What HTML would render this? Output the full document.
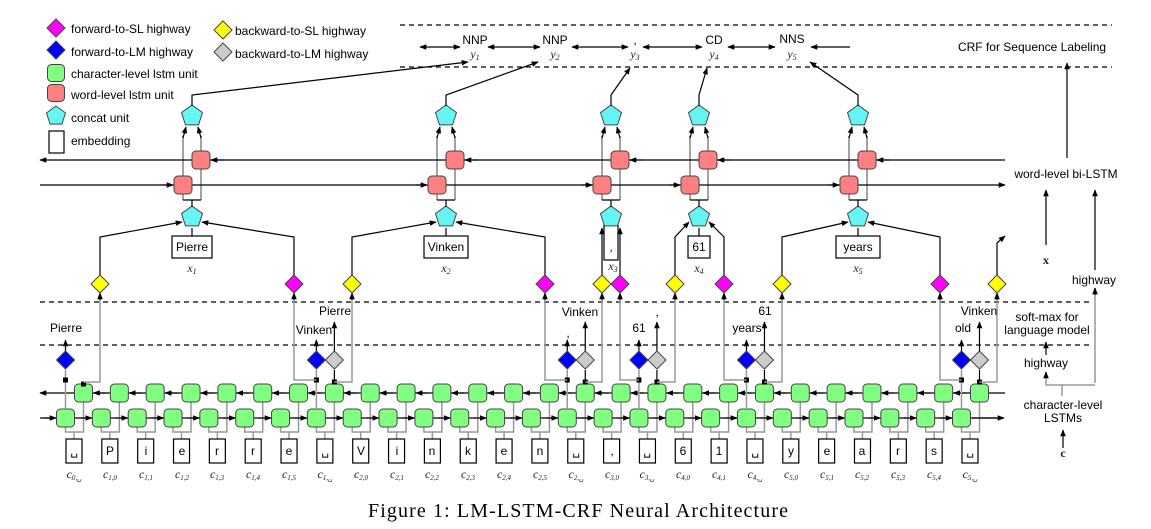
<!DOCTYPE html>
<html><head><meta charset="utf-8">
<style>
html,body{margin:0;padding:0;background:#fff;}
svg{display:block;font-family:"Liberation Sans","DejaVu Sans",sans-serif;}
.t{font-size:12px;fill:#000}
.it{font-family:"Liberation Serif",serif;font-style:italic;font-size:12px;fill:#223}
.cap{font-family:"Liberation Serif",serif;font-size:20px;fill:#000}
</style></head><body>
<svg id="s" width="1151" height="529" viewBox="0 0 1151 529" xmlns="http://www.w3.org/2000/svg">
<defs>
<marker id="a" viewBox="0 0 10 10" refX="9" refY="5" markerWidth="7" markerHeight="7" orient="auto-start-reverse" markerUnits="userSpaceOnUse"><path d="M0,1 L10,5 L0,9 z" fill="#000"/></marker>
</defs>
<g id="g"></g>
<!-- legend text -->
<text class="t" x="71" y="33">forward-to-SL highway</text>
<text class="t" x="71" y="56">forward-to-LM highway</text>
<text class="t" x="71" y="78">character-level lstm unit</text>
<text class="t" x="71" y="99">word-level lstm unit</text>
<text class="t" x="71" y="122">concat unit</text>
<text class="t" x="71" y="145">embedding</text>
<text class="t" x="235" y="35">backward-to-SL highway</text>
<text class="t" x="235" y="58">backward-to-LM highway</text>
<!-- tags -->
<text class="t" x="475" y="44" text-anchor="middle">NNP</text>
<text class="it" x="475" y="58" text-anchor="middle">y<tspan font-size="8" dy="2">1</tspan></text>
<text class="t" x="555" y="44" text-anchor="middle">NNP</text>
<text class="it" x="555" y="58" text-anchor="middle">y<tspan font-size="8" dy="2">2</tspan></text>
<text class="t" x="635" y="44" text-anchor="middle">,</text>
<text class="it" x="635" y="58" text-anchor="middle">y<tspan font-size="8" dy="2">3</tspan></text>
<text class="t" x="714" y="44" text-anchor="middle">CD</text>
<text class="it" x="714" y="58" text-anchor="middle">y<tspan font-size="8" dy="2">4</tspan></text>
<text class="t" x="792" y="43" text-anchor="middle">NNS</text>
<text class="it" x="792" y="58" text-anchor="middle">y<tspan font-size="8" dy="2">5</tspan></text>
<!-- right labels -->
<text class="t" x="1032" y="51" text-anchor="middle">CRF for Sequence Labeling</text>
<text class="t" x="1066" y="178" text-anchor="middle">word-level bi-LSTM</text>
<text class="it" x="1046" y="264" text-anchor="middle" style="font-style:normal;font-weight:bold">x</text>
<text class="t" x="1094" y="284" text-anchor="middle">highway</text>
<text class="t" x="1047" y="321" text-anchor="middle" font-size="11">soft-max for</text>
<text class="t" x="1047" y="334" text-anchor="middle" font-size="11">language model</text>
<text class="t" x="1046" y="367" text-anchor="middle">highway</text>
<text class="t" x="1063" y="409" text-anchor="middle">character-level</text>
<text class="t" x="1063" y="422" text-anchor="middle">LSTMs</text>
<text class="it" x="1063" y="457" text-anchor="middle" style="font-style:normal;font-weight:bold">c</text>
<!-- LM labels -->
<text class="t" x="66" y="332" text-anchor="middle">Pierre</text>
<text class="t" x="314" y="334" text-anchor="middle">Vinken</text>
<text class="t" x="335" y="315" text-anchor="middle">Pierre</text>
<text class="t" x="568" y="337" text-anchor="middle">,</text>
<text class="t" x="580" y="316" text-anchor="middle">Vinken</text>
<text class="t" x="639" y="332" text-anchor="middle">61</text>
<text class="t" x="657" y="316" text-anchor="middle">,</text>
<text class="t" x="747" y="332" text-anchor="middle">years</text>
<text class="t" x="765" y="315" text-anchor="middle">61</text>
<text class="t" x="963" y="332" text-anchor="middle">old</text>
<text class="t" x="979" y="315" text-anchor="middle">Vinken</text>
<!-- word embeddings -->
<text class="t" x="192" y="251" text-anchor="middle">Pierre</text>
<text class="it" x="192" y="272" text-anchor="middle">x<tspan font-size="8" dy="2">1</tspan></text>
<text class="t" x="446" y="251" text-anchor="middle">Vinken</text>
<text class="it" x="446" y="272" text-anchor="middle">x<tspan font-size="8" dy="2">2</tspan></text>
<text class="t" x="611" y="251" text-anchor="middle">,</text>
<text class="it" x="613" y="270" text-anchor="middle">x<tspan font-size="8" dy="2">3</tspan></text>
<text class="t" x="699" y="251" text-anchor="middle">61</text>
<text class="it" x="699" y="272" text-anchor="middle">x<tspan font-size="8" dy="2">4</tspan></text>
<text class="t" x="858" y="251" text-anchor="middle">years</text>
<text class="it" x="858" y="272" text-anchor="middle">x<tspan font-size="8" dy="2">5</tspan></text>
<!-- chars -->
<g class="t" text-anchor="middle" font-size="12">
<text x="74" y="455">␣</text><text x="110" y="455">P</text><text x="146" y="455">i</text><text x="182" y="455">e</text><text x="217" y="455">r</text><text x="253" y="455">r</text><text x="289" y="455">e</text><text x="325" y="455">␣</text><text x="361" y="455">V</text><text x="397" y="455">i</text><text x="432" y="455">n</text><text x="468" y="455">k</text><text x="504" y="455">e</text><text x="540" y="455">n</text><text x="576" y="455">␣</text><text x="612" y="455">,</text><text x="647" y="455">␣</text><text x="683" y="455">6</text><text x="719" y="455">1</text><text x="755" y="455">␣</text><text x="791" y="455">y</text><text x="827" y="455">e</text><text x="862" y="455">a</text><text x="898" y="455">r</text><text x="934" y="455">s</text><text x="970" y="455">␣</text>
</g>
<g class="it" text-anchor="middle" font-size="11">
<text x="74" y="478">c<tspan font-size="7" dy="2">0,␣</tspan></text><text x="110" y="478">c<tspan font-size="7" dy="2">1,0</tspan></text><text x="146" y="478">c<tspan font-size="7" dy="2">1,1</tspan></text><text x="182" y="478">c<tspan font-size="7" dy="2">1,2</tspan></text><text x="217" y="478">c<tspan font-size="7" dy="2">1,3</tspan></text><text x="253" y="478">c<tspan font-size="7" dy="2">1,4</tspan></text><text x="289" y="478">c<tspan font-size="7" dy="2">1,5</tspan></text><text x="325" y="478">c<tspan font-size="7" dy="2">1,␣</tspan></text><text x="361" y="478">c<tspan font-size="7" dy="2">2,0</tspan></text><text x="397" y="478">c<tspan font-size="7" dy="2">2,1</tspan></text><text x="432" y="478">c<tspan font-size="7" dy="2">2,2</tspan></text><text x="468" y="478">c<tspan font-size="7" dy="2">2,3</tspan></text><text x="504" y="478">c<tspan font-size="7" dy="2">2,4</tspan></text><text x="540" y="478">c<tspan font-size="7" dy="2">2,5</tspan></text><text x="576" y="478">c<tspan font-size="7" dy="2">2,␣</tspan></text><text x="612" y="478">c<tspan font-size="7" dy="2">3,0</tspan></text><text x="647" y="478">c<tspan font-size="7" dy="2">3,␣</tspan></text><text x="683" y="478">c<tspan font-size="7" dy="2">4,0</tspan></text><text x="719" y="478">c<tspan font-size="7" dy="2">4,1</tspan></text><text x="755" y="478">c<tspan font-size="7" dy="2">4,␣</tspan></text><text x="791" y="478">c<tspan font-size="7" dy="2">5,0</tspan></text><text x="827" y="478">c<tspan font-size="7" dy="2">5,1</tspan></text><text x="862" y="478">c<tspan font-size="7" dy="2">5,2</tspan></text><text x="898" y="478">c<tspan font-size="7" dy="2">5,3</tspan></text><text x="934" y="478">c<tspan font-size="7" dy="2">5,4</tspan></text><text x="970" y="478">c<tspan font-size="7" dy="2">5,␣</tspan></text>
</g>
<text class="cap" x="578" y="517" text-anchor="middle" textLength="420">Figure 1: LM-LSTM-CRF Neural Architecture</text>
</svg>
<script>
const NS="http://www.w3.org/2000/svg",G=document.getElementById("g");
function el(t,a){const e=document.createElementNS(NS,t);for(const k in a)e.setAttribute(k,a[k]);G.appendChild(e);return e;}
function line(pts,opt={}){el("polyline",{points:pts.map(p=>p.join(",")).join(" "),fill:"none",stroke:opt.c||"#000","stroke-width":opt.w||1.2,"stroke-dasharray":opt.d||"","marker-end":opt.arr?"url(#a)":"","marker-start":opt.arr2?"url(#a)":""});}
function rr(x,y,w,h,f){el("rect",{x:x-w/2,y:y-h/2,width:w,height:h,rx:4,fill:f,stroke:"#444","stroke-width":1});}
function dia(x,y,f,r=9){el("polygon",{points:`${x},${y-r} ${x+r},${y} ${x},${y+r} ${x-r},${y}`,fill:f,stroke:"#444","stroke-width":1});}
function pent(x,y,r=11){let p=[];for(let i=0;i<5;i++){const a=-Math.PI/2+i*2*Math.PI/5;p.push((x+r*Math.cos(a)).toFixed(1)+","+(y+r*Math.sin(a)).toFixed(1));}el("polygon",{points:p.join(" "),fill:"#66f5f5",stroke:"#444","stroke-width":1});}
function box(x1,y1,x2,y2){el("rect",{x:x1,y:y1,width:x2-x1,height:y2-y1,fill:"#fff",stroke:"#000","stroke-width":1.2});}
function dot(x,y){el("rect",{x:x-2.5,y:y-2.5,width:5,height:5,fill:"#000"});}
const GR="#999";
// dashed lines
line([[400,25],[1112,25]],{d:"5,4"});line([[400,67],[1112,67]],{d:"5,4"});
line([[40,302],[1090,302]],{d:"5,4"});line([[40,345],[1090,345]],{d:"5,4"});
// top tag arrows
[[420,460],[488,540],[572,628],[643,702],[728,775]].forEach(([a,b])=>line([[a,47],[b,47]],{arr:1,arr2:1}));
line([[850,47],[811,47]],{arr:1});
// legend
dia(56,28,"#f0f");dia(56,50,"#00f");rr(56,73,17,17,"#80ff80");rr(56,93,17,17,"#ff8080");pent(56,116,10);box(49,131,64,153);
dia(223,30,"#ff0");dia(223,52,"#ccc");
// char level
const X=[];for(let i=0;i<26;i++)X.push(74+35.84*i);
line([[40,418],[1002,418]],{});line([[1005,393],[40,393]],{arr:1});
for(let i=0;i<26;i++){const x=X[i];
 line([[x,439],[x,432],[x-8.5,432],[x-8.5,427]],{c:GR,w:1.5});line([[x,432],[x+9.5,432],[x+9.5,402]],{c:GR,w:1.5});
}
for(let i=0;i<26;i++){const x=X[i];
 line([[x-30,418],[x-18,418]],{arr:1});
 if(i<25)line([[x+32,393],[x+19.5,393]],{arr:1});
}
line([[X[25]+2,418],[1004,418]],{arr:1});
for(let i=0;i<26;i++){const x=X[i];
 rr(x-8.5,418,18,18,"#80ff80");rr(x+9.5,393,18,18,"#80ff80");box(x-8,439,x+8,463);
}
// LM highways at spaces
const SP=[0,7,14,16,19,25];
SP.forEach(i=>{const x=X[i];const bx=x-8.5,gx=x+9.5;
 line([[bx,409],[bx,370]],{c:GR,w:1.5});dot(bx,380);line([[bx,351],[bx,340]],{arr:1});dia(bx,360,"#00f");
 if(i>0){line([[gx,384],[gx,370]],{});dot(gx,382);line([[gx,351],[gx,322]],{arr:1});dia(gx,360,"#ccc");}
});
function slF(dx,i){const bx=X[i]-8.5;line([[bx,380],[dx,380],[dx,294]],{c:GR,w:1.5});line([[dx,300],[dx,293]],{arr:1});dia(dx,284,"#f0f");}
function slB(dx,i){const gx=X[i]+9.5;line([[gx,382],[dx,382],[dx,294]],{c:GR,w:1.5});line([[dx,300],[dx,293]],{arr:1});dia(dx,284,"#ff0");}
dot(X[0]+9.5,384);
slB(100,0);slF(294,7);slB(352,7);slF(545,14);slB(602,14);slF(620,16);slB(675,16);slF(724,19);slB(782,19);slF(940,25);slB(997,25);
// words
const W=[[192,100,294,172,212],[446,352,545,424,468],[611,602,620,604,618],[699,675,724,688,710],[858,782,940,836,880]];
W.forEach(([x,yd,md,b1,b2],k)=>{
 if(k==2){line([[yd,275],[yd,228]],{arr:1});line([[md,275],[md,228]],{arr:1});}
 else{line([[yd,275],[yd,237],[x-10,222]],{arr:1});line([[md,275],[md,237],[x+10,222]],{arr:1});}
 line([[x,236],[x,228]],{});
 box(b1,k==2?225:236,b2,k==2?260:258);
 pent(x,217);
 line([[x,207],[x,200]],{});
 line([[x-9,200],[x-9,136]],{c:GR,w:1.8});line([[x+9,200],[x+9,136]],{c:GR,w:1.8});line([[x-9,200],[x+9,200]],{});
 line([[x-9,138],[x-6,127]],{arr:1});line([[x+9,138],[x+6,127]],{arr:1});
});
// word-level lines
line([[40,185],[1005,185]],{arr:1});line([[1005,160],[40,160]],{arr:1});
W.forEach(([x])=>{line([[x-30,185],[x-19,185]],{arr:1});line([[x+32,160],[x+19,160]],{arr:1});});
W.forEach(([x])=>{rr(x-9,185,18,18,"#ff8080");rr(x+9,160,18,18,"#ff8080");pent(x,116);});
// to CRF
line([[192,106],[192,95],[468,62]],{arr:1});
line([[446,106],[446,95],[538,62]],{arr:1});
line([[611,106],[611,95],[630,68]],{arr:1});
line([[699,106],[699,95],[707,68]],{arr:1});
line([[858,106],[858,95],[810,62]],{arr:1});
// yellow out arrow
line([[997,275],[997,243],[1005,236]],{arr:1});
// right side
line([[1067,158],[1067,63]],{arr:1});
line([[1046,245],[1046,190]],{arr:1});
line([[1095,270],[1095,190]],{arr:1});
line([[1095,383],[1095,288]],{c:GR,w:1.5});line([[1095,295],[1095,288]],{arr:1});
line([[1062,396],[1062,385],[1046,385],[1046,372]],{c:GR,w:1.5});line([[1062,385],[1095,385]],{c:GR,w:1.5});
line([[1046,376],[1046,372]],{arr:1});
line([[1046,355],[1046,342]],{arr:1});
line([[1063,448],[1063,430]],{arr:1});
</script>
</body></html>
